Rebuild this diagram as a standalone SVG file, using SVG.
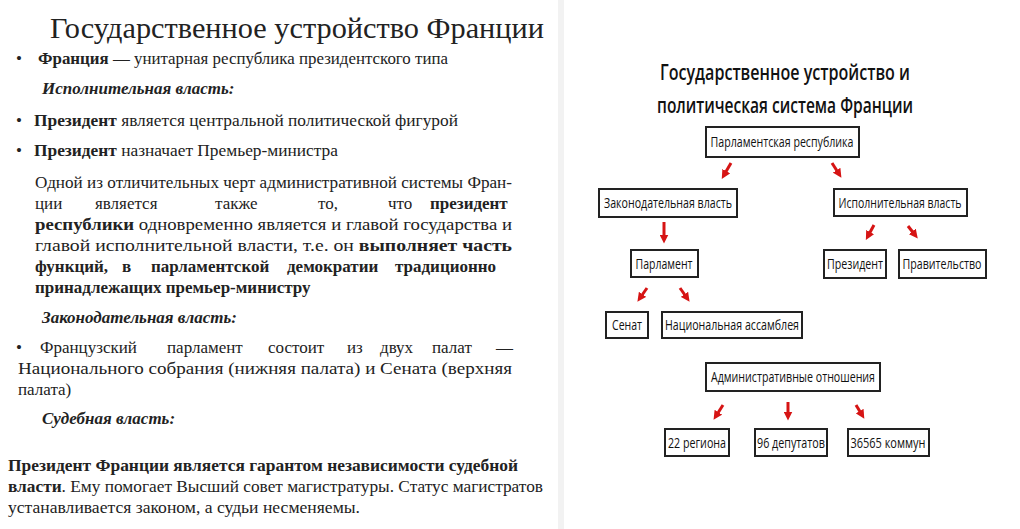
<svg xmlns="http://www.w3.org/2000/svg" width="1020" height="529" viewBox="0 0 1020 529">
<style>
.t{font-family:"Liberation Serif",serif;font-size:17px;fill:#222}
.b{font-weight:bold}
.h{font-family:"Liberation Serif",serif;font-size:17px;font-weight:bold;font-style:italic;fill:#222}
.box rect{fill:#fff;stroke:#222;stroke-width:2}
.box text{font-family:"Open Sans","Liberation Sans",sans-serif;font-size:14.5px;fill:#111;text-anchor:middle}
.ttl{font-family:"Open Sans","Liberation Sans",sans-serif;font-size:22px;fill:#111;text-anchor:middle;font-weight:600}
#connectors line{stroke:#d61414;stroke-width:3;marker-end:url(#ah)}
</style>
<defs><marker id="ah" viewBox="0 0 10 10" refX="5" refY="5" markerWidth="3" markerHeight="3" orient="auto"><path d="M0,0L10,5L0,10z" fill="#d61414"/></marker></defs>
<rect width="1020" height="529" fill="#fff"/>
<rect x="558" y="0" width="6" height="529" fill="#f2f2f2"/>
<text x="50" y="38" style="font-family:'Liberation Serif',serif;font-size:30px;fill:#222" textLength="494" lengthAdjust="spacingAndGlyphs">Государственное устройство Франции</text>
<text class="t" x="16" y="64">•</text><text class="t" x="38" y="64" textLength="410" lengthAdjust="spacingAndGlyphs"><tspan class="b">Франция</tspan> — унитарная республика президентского типа</text>
<text class="h" x="42" y="94">Исполнительная власть:</text>
<text class="t" x="16" y="126">•</text><text class="t" x="34" y="126" textLength="424" lengthAdjust="spacingAndGlyphs"><tspan class="b">Президент</tspan>  является центральной политической фигурой</text>
<text class="t" x="16" y="156">•</text><text class="t" x="34" y="156" textLength="304" lengthAdjust="spacingAndGlyphs"><tspan class="b">Президент</tspan> назначает Премьер-министра</text>
<text class="t" x="35" y="188" textLength="477" lengthAdjust="spacingAndGlyphs">Одной из отличительных черт административной системы Фран-</text>
<text class="t" y="209"><tspan x="35">ции</tspan><tspan x="95">является</tspan><tspan x="215">также</tspan><tspan x="318">то,</tspan><tspan x="388">что</tspan><tspan x="430" class="b">президент</tspan></text>
<text class="t" x="35" y="230" textLength="477" lengthAdjust="spacingAndGlyphs"><tspan class="b">республики</tspan> одновременно является и главой государства и</text>
<text class="t" x="35" y="251" textLength="477" lengthAdjust="spacingAndGlyphs">главой исполнительной власти, т.е. он <tspan class="b">выполняет часть</tspan></text>
<text class="t b" y="272"><tspan x="35">функций,</tspan><tspan x="122">в</tspan><tspan x="151">парламентской</tspan><tspan x="287">демократии</tspan><tspan x="395">традиционно</tspan></text>
<text class="t b" x="35" y="293">принадлежащих премьер-министру</text>
<text class="h" x="42" y="323">Законодательная власть:</text>
<text class="t" x="16" y="353">•</text><text class="t" y="353"><tspan x="40">Французский</tspan><tspan x="167">парламент</tspan><tspan x="268">состоит</tspan><tspan x="347">из</tspan><tspan x="380">двух</tspan><tspan x="432">палат</tspan><tspan x="496">—</tspan></text>
<text class="t" x="18" y="374" textLength="494" lengthAdjust="spacingAndGlyphs">Национального собрания (нижняя палата) и Сената (верхняя</text>
<text class="t" x="18" y="395">палата)</text>
<text class="h" x="42" y="424">Судебная власть:</text>
<text class="t b" x="8" y="471" textLength="510" lengthAdjust="spacingAndGlyphs">Президент Франции является гарантом независимости судебной</text>
<text class="t" x="8" y="492" textLength="535" lengthAdjust="spacingAndGlyphs"><tspan class="b">власти</tspan>. Ему помогает Высший совет магистратуры. Статус магистратов</text>
<text class="t" x="8" y="513" textLength="352" lengthAdjust="spacingAndGlyphs">устанавливается законом, а судьи несменяемы.</text>

<text class="ttl" x="785" y="80" textLength="250" lengthAdjust="spacingAndGlyphs">Государственное устройство и</text>
<text class="ttl" x="785" y="113" textLength="256" lengthAdjust="spacingAndGlyphs">политическая система Франции</text>

<g id="n1" class="box"><rect x="706" y="127" width="153" height="30"/><text x="782" y="147" textLength="143" lengthAdjust="spacingAndGlyphs">Парламентская республика</text></g>
<g id="n2" class="box"><rect x="599" y="189" width="138" height="28"/><text x="668" y="208" textLength="128" lengthAdjust="spacingAndGlyphs">Законодательная власть</text></g>
<g id="n3" class="box"><rect x="834" y="189" width="133" height="27"/><text x="900" y="208" textLength="123" lengthAdjust="spacingAndGlyphs">Исполнительная власть</text></g>
<g id="n4" class="box"><rect x="631" y="250" width="67" height="27"/><text x="664" y="269" textLength="57" lengthAdjust="spacingAndGlyphs">Парламент</text></g>
<g id="n5" class="box"><rect x="824" y="250" width="62" height="28"/><text x="855" y="269" textLength="56" lengthAdjust="spacingAndGlyphs">Президент</text></g>
<g id="n6" class="box"><rect x="899" y="250" width="87" height="28"/><text x="942" y="269" textLength="79" lengthAdjust="spacingAndGlyphs">Правительство</text></g>
<g id="n7" class="box"><rect x="606" y="312" width="42" height="26"/><text x="627" y="330" textLength="30" lengthAdjust="spacingAndGlyphs">Сенат</text></g>
<g id="n8" class="box"><rect x="662" y="312" width="140" height="26"/><text x="732" y="330" textLength="134" lengthAdjust="spacingAndGlyphs">Национальная ассамблея</text></g>
<g id="n9" class="box"><rect x="706" y="363" width="174" height="28"/><text x="793" y="382" textLength="164" lengthAdjust="spacingAndGlyphs">Административные отношения</text></g>
<g id="n10" class="box"><rect x="665" y="429" width="64" height="27"/><text x="697" y="448" textLength="58" lengthAdjust="spacingAndGlyphs">22 региона</text></g>
<g id="n11" class="box"><rect x="755" y="429" width="72" height="27"/><text x="791" y="448" textLength="68" lengthAdjust="spacingAndGlyphs">96 депутатов</text></g>
<g id="n12" class="box"><rect x="848" y="429" width="81" height="27"/><text x="888" y="448" textLength="75" lengthAdjust="spacingAndGlyphs">36565 коммун</text></g>

<g id="connectors">
<line x1="731" y1="163" x2="724" y2="175"/>
<line x1="832" y1="163" x2="839" y2="174"/>
<line x1="664" y1="222" x2="664" y2="239"/>
<line x1="874" y1="225" x2="868" y2="236"/>
<line x1="908" y1="226" x2="915" y2="235"/>
<line x1="647" y1="288" x2="640" y2="298"/>
<line x1="680" y1="288" x2="687" y2="298"/>
<line x1="723" y1="405" x2="716" y2="416"/>
<line x1="788" y1="402" x2="788" y2="416"/>
<line x1="856" y1="405" x2="862" y2="415"/>
</g>
</svg>
